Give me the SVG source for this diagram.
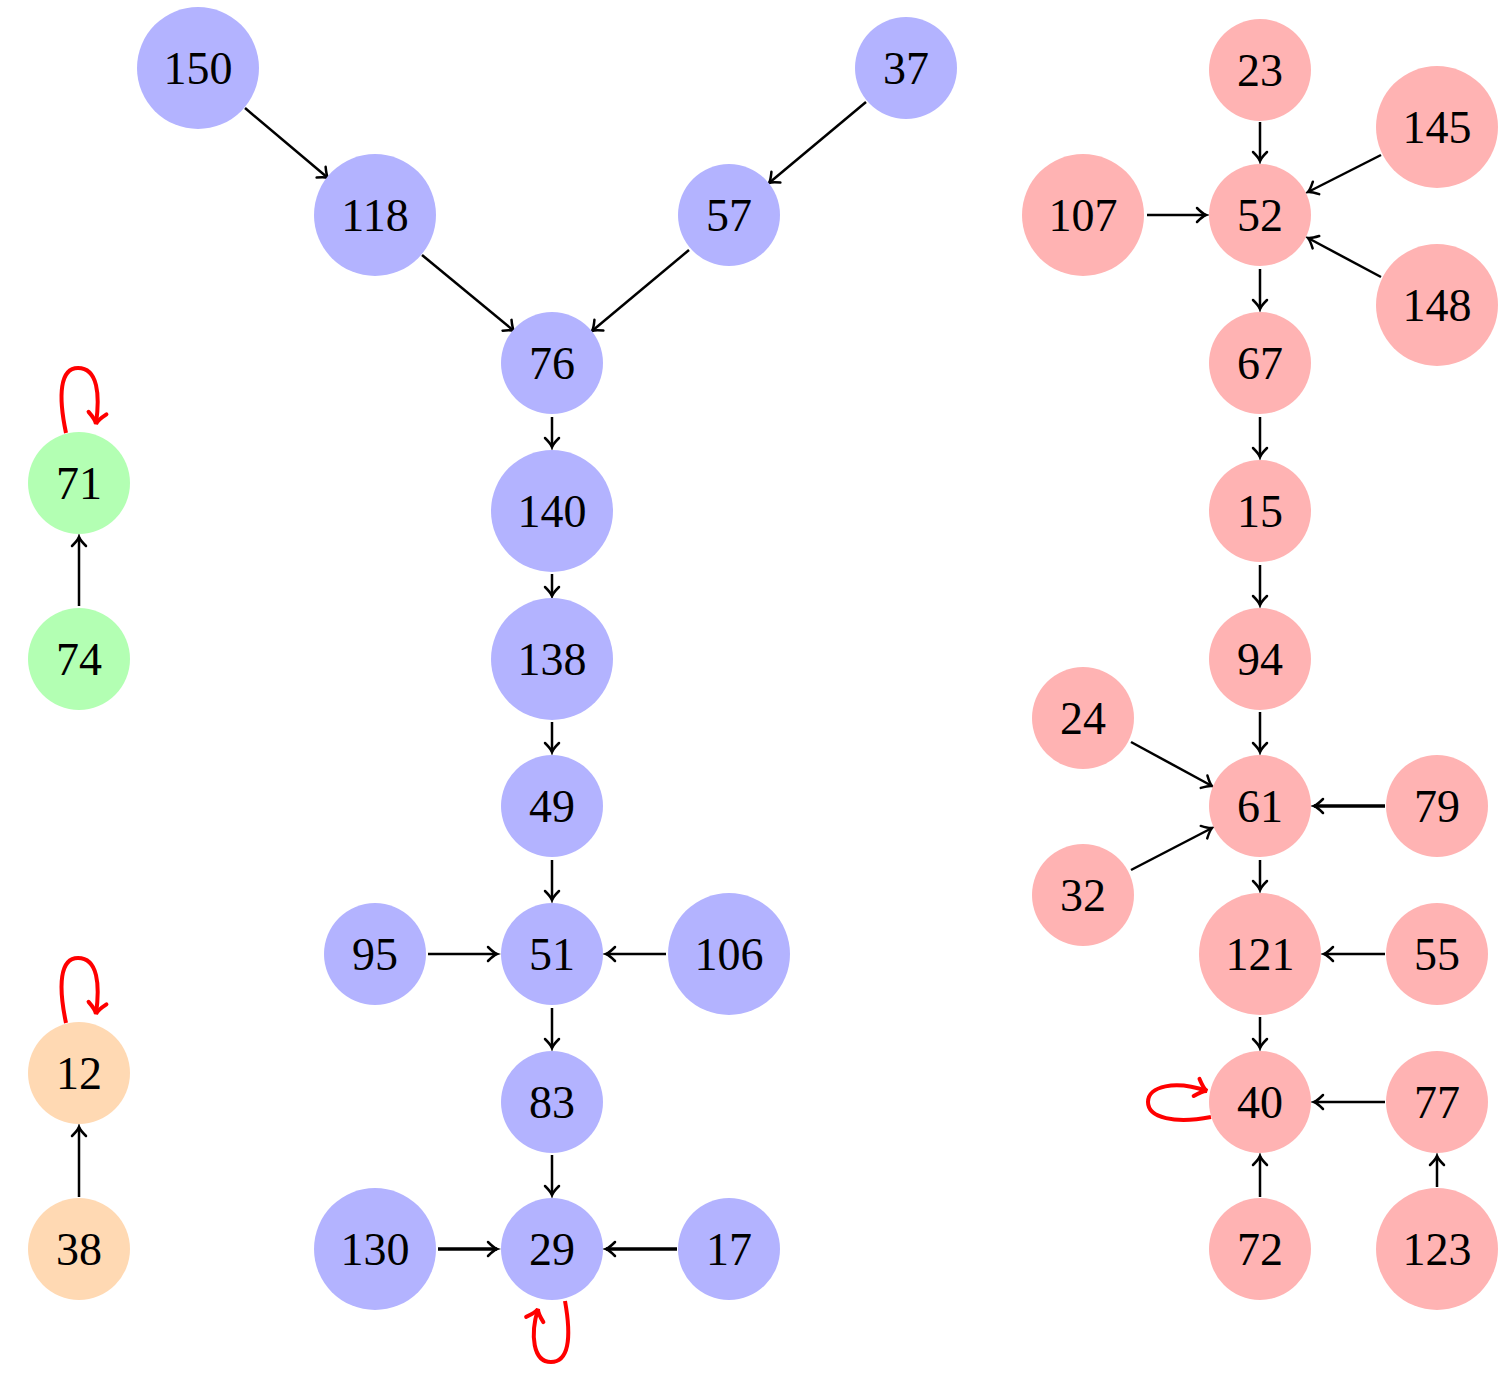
<svg xmlns="http://www.w3.org/2000/svg" width="1510" height="1380" viewBox="0 0 1510 1380">
<defs>
<marker id="a" markerUnits="userSpaceOnUse" markerWidth="20" markerHeight="20" viewBox="-12 -10 14 20" refX="0" refY="0" orient="auto"><path d="M-9,-7 Q-3,-1 0,0 Q-3,1 -9,7" fill="none" stroke="#000" stroke-width="2.5" stroke-linecap="round"/></marker>
<marker id="r" markerUnits="userSpaceOnUse" markerWidth="24" markerHeight="24" viewBox="-14 -12 16 24" refX="0" refY="0" orient="auto"><path d="M-11,-9 Q-4,-1 0,0 Q-4,1 -11,9" fill="none" stroke="#f00" stroke-width="4" stroke-linecap="round"/></marker>
<style>
.b{fill:#b3b3ff}.g{fill:#b3ffb3}.o{fill:#ffd9b3}.p{fill:#ffb3b3}
text{font-family:"Liberation Serif","DejaVu Serif",serif;font-size:46px;fill:#000;text-anchor:middle;dominant-baseline:central}
.e line{stroke:#000;stroke-width:2.5;marker-end:url(#a)}
.e line.t{stroke-width:3.5}
.e path{fill:none;stroke:#f00;stroke-width:4;marker-end:url(#r)}
</style>
</defs>
<rect width="1510" height="1380" fill="#fff"/>
<g class="e" id="edges">
<line x1="245" y1="108" x2="328" y2="178"/>
<line x1="866" y1="102" x2="769" y2="183"/>
<line x1="422" y1="255" x2="514" y2="331"/>
<line x1="689" y1="250" x2="592" y2="331"/>
<line x1="552" y1="417" x2="552" y2="447"/>
<line x1="552" y1="574" x2="552" y2="596"/>
<line x1="552" y1="722" x2="552" y2="752"/>
<line x1="552" y1="860" x2="552" y2="900"/>
<line x1="428" y1="954" x2="497" y2="954"/>
<line x1="666" y1="954" x2="606" y2="954"/>
<line x1="552" y1="1008" x2="552" y2="1048"/>
<line x1="552" y1="1155" x2="552" y2="1195"/>
<line class="t" x1="438" y1="1249" x2="497" y2="1249"/>
<line class="t" x1="677" y1="1249" x2="606" y2="1249"/>
<line x1="79" y1="606" x2="79" y2="537"/>
<line x1="79" y1="1197" x2="79" y2="1127"/>
<line x1="1260" y1="122" x2="1260" y2="161"/>
<line x1="1381" y1="155" x2="1308" y2="192"/>
<line x1="1147" y1="215" x2="1206" y2="215"/>
<line x1="1381" y1="277" x2="1308" y2="238"/>
<line x1="1260" y1="269" x2="1260" y2="309"/>
<line x1="1260" y1="417" x2="1260" y2="457"/>
<line x1="1260" y1="565" x2="1260" y2="605"/>
<line x1="1260" y1="712" x2="1260" y2="752"/>
<line x1="1131" y1="742" x2="1212" y2="786"/>
<line class="t" x1="1385" y1="806" x2="1314" y2="806"/>
<line x1="1131" y1="870" x2="1212" y2="828"/>
<line x1="1260" y1="860" x2="1260" y2="890"/>
<line x1="1385" y1="954" x2="1324" y2="954"/>
<line x1="1260" y1="1017" x2="1260" y2="1048"/>
<line x1="1385" y1="1102" x2="1314" y2="1102"/>
<line x1="1260" y1="1197" x2="1260" y2="1156"/>
<line x1="1437" y1="1187" x2="1437" y2="1156"/>
<path d="M66,433 C58,395 60,368 78,368 C98,368 100,395 96,424"/>
<path d="M66,1023 C58,985 60,958 78,958 C98,958 100,985 96,1014"/>
<path d="M565,1301 C572,1340 568,1362 551,1362 C533,1362 530,1335 538,1309"/>
<path d="M1211,1117 C1175,1124 1148,1118 1148,1102 C1148,1086 1175,1080 1207,1091"/>
</g>
<g id="n150"><circle class="b" cx="198" cy="68" r="61"/><text x="198" y="68">150</text></g>
<g id="n37"><circle class="b" cx="906" cy="68" r="51"/><text x="906" y="68">37</text></g>
<g id="n118"><circle class="b" cx="375" cy="215" r="61"/><text x="375" y="215">118</text></g>
<g id="n57"><circle class="b" cx="729" cy="215" r="51"/><text x="729" y="215">57</text></g>
<g id="n76"><circle class="b" cx="552" cy="363" r="51"/><text x="552" y="363">76</text></g>
<g id="n140"><circle class="b" cx="552" cy="511" r="61"/><text x="552" y="511">140</text></g>
<g id="n138"><circle class="b" cx="552" cy="659" r="61"/><text x="552" y="659">138</text></g>
<g id="n49"><circle class="b" cx="552" cy="806" r="51"/><text x="552" y="806">49</text></g>
<g id="n95"><circle class="b" cx="375" cy="954" r="51"/><text x="375" y="954">95</text></g>
<g id="n51"><circle class="b" cx="552" cy="954" r="51"/><text x="552" y="954">51</text></g>
<g id="n106"><circle class="b" cx="729" cy="954" r="61"/><text x="729" y="954">106</text></g>
<g id="n83"><circle class="b" cx="552" cy="1102" r="51"/><text x="552" y="1102">83</text></g>
<g id="n130"><circle class="b" cx="375" cy="1249" r="61"/><text x="375" y="1249">130</text></g>
<g id="n29"><circle class="b" cx="552" cy="1249" r="51"/><text x="552" y="1249">29</text></g>
<g id="n17"><circle class="b" cx="729" cy="1249" r="51"/><text x="729" y="1249">17</text></g>
<g id="n71"><circle class="g" cx="79" cy="483" r="51"/><text x="79" y="483">71</text></g>
<g id="n74"><circle class="g" cx="79" cy="659" r="51"/><text x="79" y="659">74</text></g>
<g id="n12"><circle class="o" cx="79" cy="1073" r="51"/><text x="79" y="1073">12</text></g>
<g id="n38"><circle class="o" cx="79" cy="1249" r="51"/><text x="79" y="1249">38</text></g>
<g id="n23"><circle class="p" cx="1260" cy="70" r="51"/><text x="1260" y="70">23</text></g>
<g id="n145"><circle class="p" cx="1437" cy="127" r="61"/><text x="1437" y="127">145</text></g>
<g id="n107"><circle class="p" cx="1083" cy="215" r="61"/><text x="1083" y="215">107</text></g>
<g id="n52"><circle class="p" cx="1260" cy="215" r="51"/><text x="1260" y="215">52</text></g>
<g id="n148"><circle class="p" cx="1437" cy="305" r="61"/><text x="1437" y="305">148</text></g>
<g id="n67"><circle class="p" cx="1260" cy="363" r="51"/><text x="1260" y="363">67</text></g>
<g id="n15"><circle class="p" cx="1260" cy="511" r="51"/><text x="1260" y="511">15</text></g>
<g id="n94"><circle class="p" cx="1260" cy="659" r="51"/><text x="1260" y="659">94</text></g>
<g id="n24"><circle class="p" cx="1083" cy="718" r="51"/><text x="1083" y="718">24</text></g>
<g id="n61"><circle class="p" cx="1260" cy="806" r="51"/><text x="1260" y="806">61</text></g>
<g id="n79"><circle class="p" cx="1437" cy="806" r="51"/><text x="1437" y="806">79</text></g>
<g id="n32"><circle class="p" cx="1083" cy="895" r="51"/><text x="1083" y="895">32</text></g>
<g id="n121"><circle class="p" cx="1260" cy="954" r="61"/><text x="1260" y="954">121</text></g>
<g id="n55"><circle class="p" cx="1437" cy="954" r="51"/><text x="1437" y="954">55</text></g>
<g id="n40"><circle class="p" cx="1260" cy="1102" r="51"/><text x="1260" y="1102">40</text></g>
<g id="n77"><circle class="p" cx="1437" cy="1102" r="51"/><text x="1437" y="1102">77</text></g>
<g id="n72"><circle class="p" cx="1260" cy="1249" r="51"/><text x="1260" y="1249">72</text></g>
<g id="n123"><circle class="p" cx="1437" cy="1249" r="61"/><text x="1437" y="1249">123</text></g>
</svg>
